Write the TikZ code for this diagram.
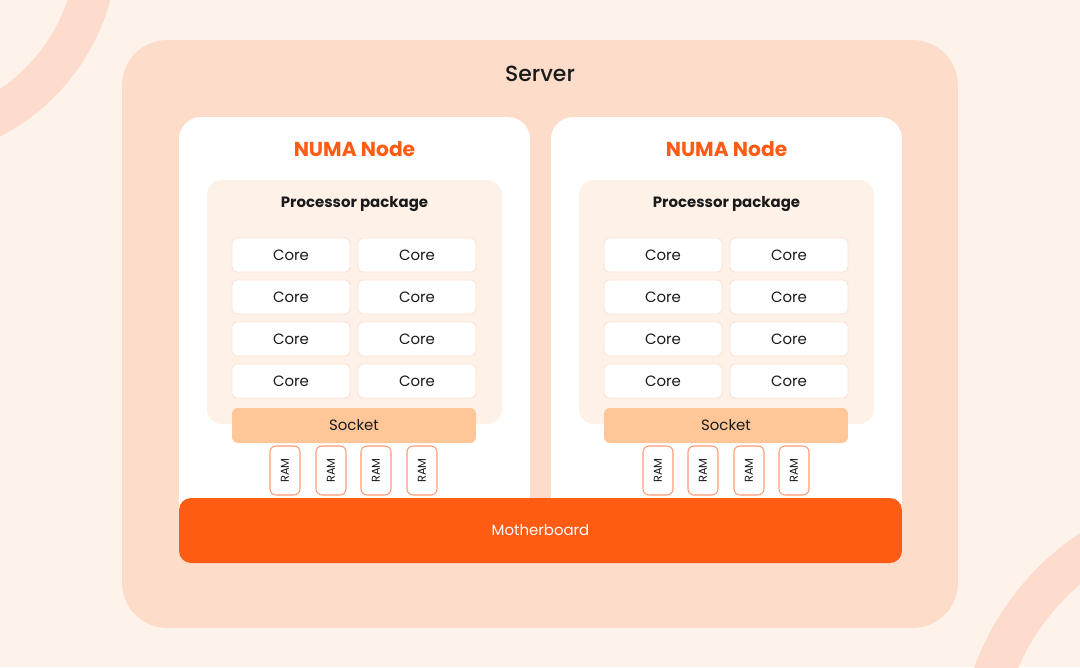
\documentclass[tikz,border=0pt]{standalone}
\usepackage{fontspec}
\setmainfont{Poppins}
\newfontfamily\mediumfont{Poppins Medium}
\usetikzlibrary{positioning}

\definecolor{bgcream}{HTML}{FEF3EA}
\definecolor{ringpeach}{HTML}{FEDCCD}
\definecolor{serverpeach}{HTML}{FEDCCA}
\definecolor{pkgcream}{HTML}{FEF1E7}
\definecolor{socketorange}{HTML}{FFC797}
\definecolor{boardorange}{HTML}{FE5B13}
\definecolor{ramedge}{HTML}{FF9B73}
\definecolor{coreedge}{HTML}{FDE3D6}
\definecolor{inktext}{HTML}{1A1A1A}

\tikzset{
  ServerBox/.style = {fill=serverpeach, rounded corners=0.9cm,
                      minimum width=16.72cm, minimum height=11.76cm, inner sep=0pt},
  NumaBox/.style   = {fill=white, rounded corners=0.44cm,
                      minimum width=7.02cm, minimum height=8.26cm, inner sep=0pt},
  PkgBox/.style    = {fill=pkgcream, rounded corners=0.3cm,
                      minimum width=5.9cm, minimum height=4.88cm, inner sep=0pt},
  CoreBox/.style   = {fill=white, draw=coreedge, line width=0.5pt, rounded corners=0.1cm,
                      minimum width=2.36cm, minimum height=0.68cm, inner sep=0pt,
                      font=\fontsize{8.5}{10}\selectfont, text=inktext},
  SocketBox/.style = {fill=socketorange, rounded corners=0.12cm,
                      minimum width=4.88cm, minimum height=0.7cm, inner sep=0pt,
                      font=\fontsize{8.5}{10}\selectfont, text=inktext},
  RamBox/.style    = {fill=white, draw=ramedge, line width=0.6pt, rounded corners=0.12cm,
                      rotate=90, minimum width=0.98cm, minimum height=0.6cm, inner sep=0pt,
                      font=\fontsize{6.5}{7}\selectfont, text=inktext},
  BoardBox/.style  = {fill=boardorange, rounded corners=0.24cm,
                      minimum width=14.46cm, minimum height=1.3cm, inner sep=0pt,
                      font=\fontsize{8.5}{10}\selectfont, text=white},
  NumaTitle/.style = {font=\fontsize{11.5}{13}\selectfont\bfseries, text=boardorange},
  PkgTitle/.style  = {font=\fontsize{8.5}{10}\selectfont\bfseries, text=inktext},
}

\begin{document}
\begin{tikzpicture}[x=0.02cm, y=-0.02cm]
   \useasboundingbox (0,0) rectangle (1080,667);
   \clip (0,0) rectangle (1080,667);
   \fill[bgcream] (0,0) rectangle (1080,667);
   % corner rings
   \draw[ringpeach, line width=0.82cm] (-100,-57) circle[radius=3.95cm];
   \draw[ringpeach, line width=0.82cm] (1230,760) circle[radius=5.03cm];

   \node[ServerBox] (server) at (540,334) {};
   \node[font=\fontsize{12.5}{14}\mediumfont, text=inktext] (serverlbl) at (540,74) {Server};

   % left NUMA node
   \node[NumaBox] (numaL) at (354.5,323.5) {};
   \node[NumaTitle] (numaLlbl) at (354.5,149) {NUMA Node};
   \node[PkgBox] (pkgL) at (354.5,302) {};
   \node[PkgTitle] (pkgLlbl) at (354.5,204) {Processor package};
   \foreach \r/\y in {1/255,2/297,3/339,4/381}{
      \node[CoreBox] (coreLa\r) at (291,\y) {Core};
      \node[CoreBox] (coreLb\r) at (417,\y) {Core};
   }
   \node[SocketBox] (socketL) at (354,425.5) {Socket};
   \foreach \i/\x in {1/285,2/331,3/376,4/422}
      \node[RamBox] (ramL\i) at (\x,470.5) {RAM};

   % right NUMA node
   \node[NumaBox] (numaR) at (726.5,323.5) {};
   \node[NumaTitle] (numaRlbl) at (726.5,149) {NUMA Node};
   \node[PkgBox] (pkgR) at (726.5,302) {};
   \node[PkgTitle] (pkgRlbl) at (726.5,204) {Processor package};
   \foreach \r/\y in {1/255,2/297,3/339,4/381}{
      \node[CoreBox] (coreRa\r) at (663,\y) {Core};
      \node[CoreBox] (coreRb\r) at (789,\y) {Core};
   }
   \node[SocketBox] (socketR) at (726,425.5) {Socket};
   \foreach \i/\x in {1/658,2/703,3/749,4/794}
      \node[RamBox] (ramR\i) at (\x,470.5) {RAM};

   \node[BoardBox] (board) at (540.5,530.5) {Motherboard};
\end{tikzpicture}
\end{document}
